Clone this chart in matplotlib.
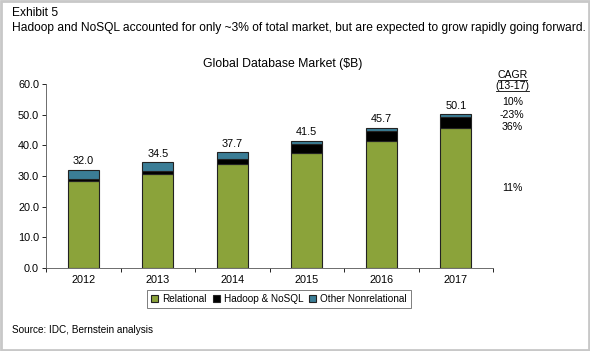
import matplotlib
matplotlib.use('Agg')
import matplotlib.pyplot as plt
from matplotlib.patches import Rectangle
from matplotlib.lines import Line2D
import numpy as np

plt.rcParams['font.family'] = ['Liberation Sans', 'DejaVu Sans']

# data ($B)
years = ['2012', '2013', '2014', '2015', '2016', '2017']
relational = [28.3, 30.5, 34.0, 37.4, 41.4, 45.5]
hadoop = [0.7, 1.1, 1.7, 2.9, 3.3, 3.8]
other = [3.0, 2.9, 2.0, 1.2, 1.0, 0.8]
totals = ['32.0', '34.5', '37.7', '41.5', '45.7', '50.1']
cagr_labels = ['10%', '-23%', '36%', '11%']
cagr_y = [54.1, 49.9, 46.0, 26.1]

green = '#8ba33a'
teal = '#3b7d96'

fig = plt.figure(figsize=(5.9, 3.51), dpi=100)
ax = fig.add_axes([46/590, 1 - 268/351, 447/590, 184/351])

x = np.arange(len(years))
w = 0.42
rel = np.array(relational)
had = np.array(hadoop)
oth = np.array(other)
ax.bar(x, rel, w, color=green, edgecolor='#222222', linewidth=0.8, label='Relational')
ax.bar(x, had, w, bottom=rel, color='black', edgecolor='#222222', linewidth=0.8, label='Hadoop & NoSQL')
ax.bar(x, oth, w, bottom=rel + had, color=teal, edgecolor='#222222', linewidth=0.8, label='Other Nonrelational')

for i, t in enumerate(totals):
    ax.text(x[i], rel[i] + had[i] + oth[i] + 1.2, t, ha='center', va='bottom', fontsize=7.8)

ax.set_xlim(-0.5, len(years) - 0.5)
ax.set_ylim(0, 60)
ax.set_yticks(np.arange(0, 61, 10))
ax.set_yticklabels(['%.1f' % v for v in np.arange(0, 61, 10)], fontsize=7.8)
ax.set_xticks(x)
ax.set_xticklabels(years, fontsize=7.8)
ax.tick_params(axis='x', length=0, pad=5)
ax.set_xticks(np.arange(-0.5, len(years)), minor=True)
ax.tick_params(axis='x', which='minor', length=3, width=0.6)
ax.tick_params(axis='y', length=3, width=0.6, pad=2)
for s in ['top', 'right']:
    ax.spines[s].set_visible(False)
for s in ['left', 'bottom']:
    ax.spines[s].set_linewidth(0.6)
    ax.spines[s].set_color('#555555')

ax.set_title('Global Database Market ($B)', fontsize=8.8, pad=12, x=0.53)

# CAGR column
tr = ax.get_yaxis_transform()
cx = 1.043
ax.text(cx, 63.0, 'CAGR', ha='center', va='center', fontsize=7.6, transform=tr, clip_on=False)
ax.text(cx, 59.3, '(13-17)', ha='center', va='center', fontsize=7.6, transform=tr, clip_on=False)
for lab, yy in zip(cagr_labels, cagr_y):
    ax.text(cx, yy, lab, ha='center', va='center', fontsize=7.6, transform=tr, clip_on=False)
fig.add_artist(Line2D([498/590, 527/590], [1 - 80/351, 1 - 80/351], color='black', lw=0.6))
fig.add_artist(Line2D([496/590, 529/590], [1 - 91/351, 1 - 91/351], color='black', lw=0.6))

leg = fig.legend(loc='center', bbox_to_anchor=(279/590, 1 - 299/351), ncol=3, fontsize=7.2,
                 frameon=True, fancybox=False, edgecolor='#444444', handlelength=0.7,
                 handleheight=0.7, handletextpad=0.4, columnspacing=0.6, borderpad=0.4)
leg.get_frame().set_linewidth(0.6)

fig.text(12/590, 1 - 13/351, 'Exhibit 5', fontsize=8.65, va='center', ha='left')
fig.text(12/590, 1 - 28/351,
         'Hadoop and NoSQL accounted for only ~3% of total market, but are expected to grow rapidly going forward.',
         fontsize=8.65, va='center', ha='left')
fig.text(12/590, 1 - 330/351, 'Source: IDC, Bernstein analysis', fontsize=7.2, va='center', ha='left')

fig.add_artist(Rectangle((0.002, 0.003), 0.996, 0.994, transform=fig.transFigure,
                         fill=False, edgecolor='#c8c8c8', linewidth=2))

fig.savefig('out.png', dpi=100)
